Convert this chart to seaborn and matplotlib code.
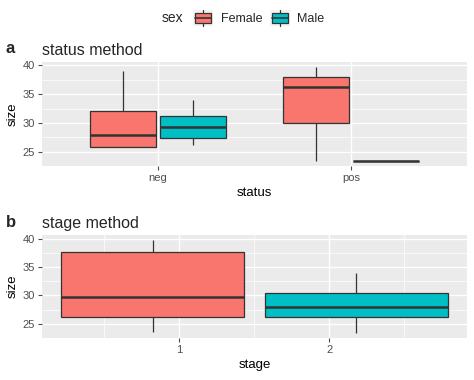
import numpy as np
import pandas as pd
import seaborn as sns
import matplotlib
matplotlib.use("Agg")
import matplotlib.pyplot as plt
from matplotlib.patches import Rectangle
from matplotlib.lines import Line2D
from matplotlib.legend_handler import HandlerBase

# data (five-number sets)
female_neg = [25.9, 25.9, 27.85, 32.0, 39.0]
male_neg = [26.1, 27.45, 29.25, 31.15, 33.9]
female_pos = [23.4, 29.95, 36.3, 38.0, 39.8]
male_pos = [23.3]
stage_1 = [23.6, 26.1, 29.75, 37.6, 39.8]
stage_2 = [23.4, 26.2, 27.9, 30.4, 33.9]

sexes = ["Female", "Male"]
statuses = ["neg", "pos"]
stages = ["1", "2"]
y_ticks = [25, 30, 35, 40]

FEMALE = "#F8766D"
MALE = "#00BFC4"
pal = {"Female": FEMALE, "Male": MALE}
EDGE = "#333333"
PANEL = "#EBEBEB"
TICK_COL = "#4D4D4D"

rows = []
for st, sx, vals in [("neg", "Female", female_neg), ("neg", "Male", male_neg),
                     ("pos", "Female", female_pos), ("pos", "Male", male_pos)]:
    for v in vals:
        rows.append({"status": st, "sex": sx, "size": v})
df_a = pd.DataFrame(rows)

rows = []
for stg, vals in [("1", stage_1), ("2", stage_2)]:
    for v in vals:
        rows.append({"stage": stg, "size": v})
df_b = pd.DataFrame(rows)

sns.set_theme(style="white")
plt.rcParams["font.family"] = ["Liberation Sans", "DejaVu Sans"]

fig = plt.figure(figsize=(4.74, 3.8), dpi=100)
ax_a = fig.add_axes([0.0886, 0.563, 0.8964, 0.274])
ax_b = fig.add_axes([0.0886, 0.111, 0.8964, 0.271])


def style_axis(ax):
    ax.set_facecolor(PANEL)
    for s in ax.spines.values():
        s.set_visible(False)
    ax.tick_params(axis="both", which="major", length=3, width=0.8, color=TICK_COL,
                   labelcolor=TICK_COL, labelsize=8, pad=2, left=True, bottom=True)
    ax.tick_params(axis="both", which="minor", length=0)
    ax.grid(which="major", color="white", linewidth=1.0)
    ax.grid(which="minor", color="white", linewidth=0.5)
    ax.set_axisbelow(True)


box_kw = dict(linecolor=EDGE, linewidth=0.9, fliersize=0,
              medianprops={"linewidth": 1.8, "color": EDGE},
              whiskerprops={"color": EDGE}, capprops={"linewidth": 0})

# panel a
sns.boxplot(data=df_a, x="status", y="size", hue="sex", order=statuses, hue_order=sexes,
            palette=pal, width=0.72, gap=0.05, whis=1.5, legend=False, ax=ax_a,
            saturation=1, **box_kw)
style_axis(ax_a)
ax_a.set_xlim(-0.6, 1.6)
ax_a.set_ylim(22.5, 40.6)
ax_a.set_yticks(y_ticks)
ax_a.set_yticks([22.5, 27.5, 32.5, 37.5], minor=True)
ax_a.set_xlabel("status", fontsize=9.5, labelpad=3, color="black")
ax_a.set_ylabel("size", fontsize=9.5, labelpad=3, color="black")
ax_a.set_title("status method", loc="left", fontsize=11.5, pad=5, x=0.0)

# panel b
sns.boxplot(data=df_b, x="stage", y="size", hue="stage", order=stages, hue_order=stages,
            palette=[FEMALE, MALE], width=0.9, legend=False, ax=ax_b,
            saturation=1, **box_kw)
style_axis(ax_b)
# the stage axis is continuous in the original: map stage value -> box coordinate
off, scale = 0.825, 1.355
ax_b.set_xlim((0.088 - off) / scale, (2.916 - off) / scale)
ax_b.set_xticks([(float(s) - off) / scale for s in stages])
ax_b.set_xticklabels(stages)
ax_b.set_xticks([(m - off) / scale for m in [0.5, 1.5, 2.5]], minor=True)
ax_b.set_ylim(22.8, 40.7)
ax_b.set_yticks(y_ticks)
ax_b.set_yticks([22.5, 27.5, 32.5, 37.5], minor=True)
ax_b.set_xlabel("stage", fontsize=9.5, labelpad=3, color="black")
ax_b.set_ylabel("size", fontsize=9.5, labelpad=3, color="black")
ax_b.set_title("stage method", loc="left", fontsize=11.5, pad=5)

fig.text(0.012, 0.873, "a", fontsize=12, fontweight="bold", va="center")
fig.text(0.012, 0.415, "b", fontsize=12, fontweight="bold", va="center")


class BoxKey(HandlerBase):
    def create_artists(self, legend, orig, xd, yd, w, h, fs, trans):
        x0, y0 = -xd, -yd
        bg = Rectangle((x0, y0), w, h, facecolor="#F2F2F2", edgecolor="none", transform=trans)
        whisk = Line2D([x0 + w / 2] * 2, [y0, y0 + h], color=EDGE, linewidth=0.9, transform=trans)
        box = Rectangle((x0 + 0.1 * w, y0 + 0.2 * h), 0.8 * w, 0.6 * h,
                        facecolor=orig.get_facecolor(), edgecolor=EDGE, linewidth=0.9,
                        transform=trans)
        med = Line2D([x0 + 0.1 * w, x0 + 0.9 * w], [y0 + h / 2] * 2, color=EDGE,
                     linewidth=1.2, transform=trans)
        return [bg, whisk, box, med]


handles = [Rectangle((0, 0), 1, 1, facecolor=pal[s]) for s in sexes]
fig.legend(handles, sexes, loc="center left", bbox_to_anchor=(0.395, 0.953), ncol=2,
           frameon=False, fontsize=9, handlelength=1.6, handleheight=1.6,
           handletextpad=0.6, columnspacing=0.6, borderpad=0,
           handler_map={Rectangle: BoxKey()})
fig.text(0.342, 0.953, "sex", fontsize=10, va="center")

fig.savefig("out.png", dpi=100)
